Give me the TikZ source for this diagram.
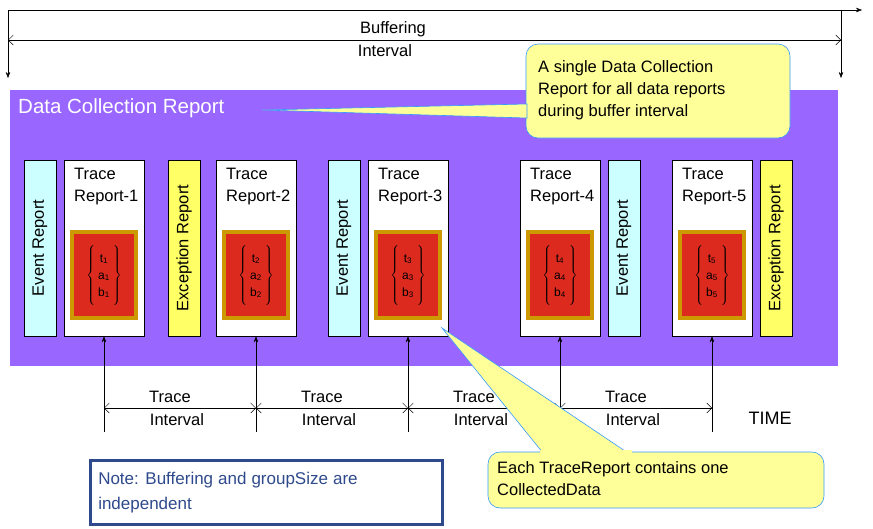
\documentclass[tikz,border=0pt]{standalone}
\usepackage{fontspec}
\setmainfont{Liberation Sans}
\usetikzlibrary{arrows.meta}
\definecolor{dcrpurple}{HTML}{9966FF}
\definecolor{evcyan}{HTML}{CCFFFF}
\definecolor{excyellow}{HTML}{FFFF66}
\definecolor{datared}{HTML}{DC2A1E}
\definecolor{datagold}{HTML}{CC9900}
\definecolor{notecol}{HTML}{FFFF99}
\definecolor{notebrd}{HTML}{3399FF}
\definecolor{notblue}{HTML}{2F4A8C}
\tikzset{
  side/.style = {draw, minimum width = 32pt, minimum height = 176pt, inner sep = 0pt},
  trace/.style = {draw, fill = white, minimum width = 80pt, minimum height = 176pt, inner sep = 0pt},
  lbl/.style = {font = \fontsize{16.5}{22}\selectfont, align = left, inner sep = 0pt},
  callout/.style = {fill = notecol, draw = notebrd, line width = 0.6pt}
}
\begin{document}
\begin{tikzpicture}[x = 1pt, y = -1pt]
  \useasboundingbox (0, 0) rectangle (873, 528);

  % buffering interval
  \coordinate (bl) at (8, 10);
  \coordinate (br) at (862, 10);
  \draw[-{Stealth[length = 6pt]}] (bl) -- (br);
  \draw[-{Stealth[length = 6pt]}] (bl) -- (8, 78);
  \draw[-{Stealth[length = 6pt]}] (841, 10) -- (841, 78);
  \draw[{Straight Barb[length = 5pt]}-{Straight Barb[length = 5pt]}] (8, 40) -- (841, 40);
  \node[lbl] (buf) at (393, 29) {Buffering};
  \node[lbl] (bufi) at (385, 51) {Interval};

  % data collection report
  \fill[dcrpurple] (10, 90) rectangle (838, 366);
  \node[lbl, text = white, font = \fontsize{20.5}{24}\selectfont, anchor = west] (dcr) at (18, 108) {Data Collection Report};

  % side reports
  \foreach \x/\name/\col in {40/Event Report/evcyan, 184/Exception Report/excyellow,
      344/Event Report/evcyan, 624/Event Report/evcyan, 776/Exception Report/excyellow}
    \node[side, fill = \col] at (\x, 248) {\rotatebox{90}{\fontsize{16.5}{20}\selectfont\name}};

  % trace reports
  \foreach \i/\x in {1/104, 2/256, 3/408, 4/560, 5/712} {
    \node[trace] (tr\i) at (\x, 248) {};
    \node[lbl, anchor = north west] at (\x - 30, 168) {Trace\\Report-\i};
    \node[fill = datared, draw = datagold, line width = 4pt, minimum width = 64pt,
      minimum height = 86pt, inner sep = 0pt] (cd\i) at (\x, 275)
      {$\left\{\rule{0pt}{34pt}\hspace{3pt}\vcenter{\hbox{\fontsize{12}{17}\selectfont\begin{tabular}{@{}c@{}}t\textsubscript{\i}\\a\textsubscript{\i}\\b\textsubscript{\i}\end{tabular}}}\hspace{3pt}\right\}$};
    \coordinate (t\i) at (\x, 432);
    \draw[-{Stealth[length = 6pt]}] (t\i) -- (tr\i.south);
  }

  % trace intervals
  \foreach \a/\b in {1/2, 2/3, 3/4, 4/5} {
    \draw[{Straight Barb[length = 5pt]}-{Straight Barb[length = 5pt]}]
      ([yshift = 24pt]t\a) -- ([yshift = 24pt]t\b);
    \node[lbl] at ([xshift = 66pt, yshift = 35pt]t\a) {Trace};
    \node[lbl] at ([xshift = 73pt, yshift = 12pt]t\a) {Interval};
  }
  \node[lbl, font = \fontsize{18}{22}\selectfont] (time) at (770, 418) {TIME};

  % note
  \node[draw = notblue, line width = 2.5pt, fill = white, text = notblue, lbl,
    font = \fontsize{17}{25}\selectfont, minimum width = 352pt, minimum height = 64pt,
    inner sep = 0pt, anchor = north west]
    (note) at (89, 459) {\parbox{336pt}{\hyphenpenalty=10000\rightskip=0pt plus 1fil
      \spaceskip=5pt plus 20pt Note: Buffering and groupSize are independent}};

  % callouts
  \filldraw[callout, rounded corners = 12pt] (526, 44) rectangle (790, 138);
  \filldraw[callout] (527, 104) -- (262, 110) -- (527, 118) -- cycle;
  \fill[notecol] (529, 102) rectangle (534, 120);
  \node[lbl, anchor = north west] (c1) at (538, 60) {A single Data Collection\\Report for all data reports\\during buffer interval};

  \filldraw[callout, rounded corners = 12pt] (488, 452) rectangle (824, 508);
  \filldraw[callout] (543, 453) -- (442, 328) -- (628, 453) -- cycle;
  \fill[notecol] (540, 450) rectangle (632, 456);
  \node[lbl, anchor = north west] (c2) at (497, 461) {Each TraceReport contains one\\CollectedData};
\end{tikzpicture}
\end{document}
